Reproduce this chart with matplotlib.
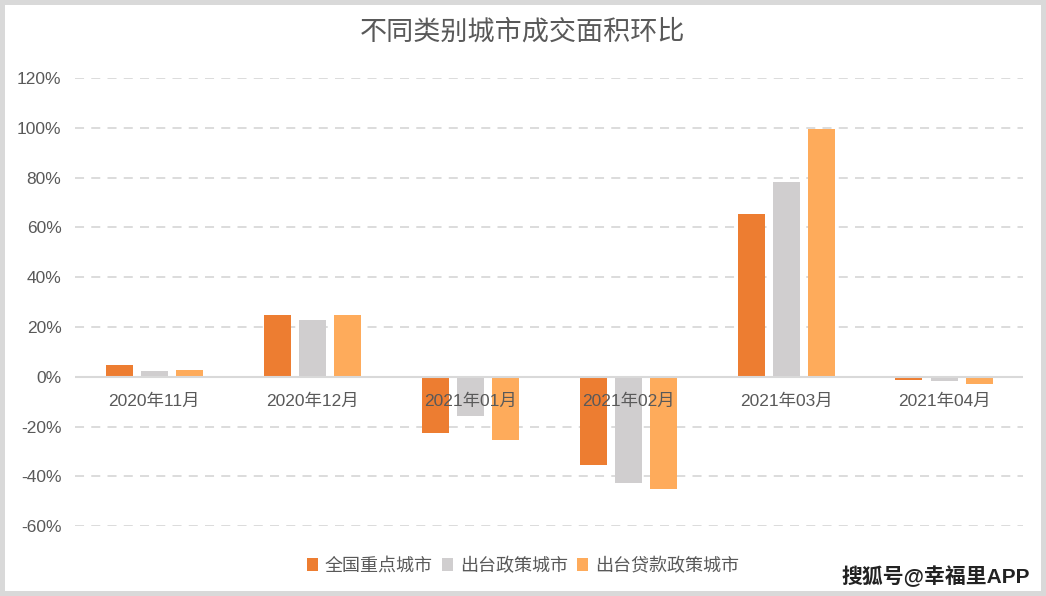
import matplotlib.pyplot as plt
import numpy as np

plt.rcParams['font.family'] = ['Liberation Sans', 'Noto Sans CJK SC', 'DejaVu Sans']

months = ['2020年11月', '2020年12月', '2021年01月', '2021年02月', '2021年03月', '2021年04月']
series_names = ['全国重点城市', '出台政策城市', '出台贷款政策城市']
key_cities = [4.8, 24.9, -22.6, -35.3, 65.5, -1.2]
policy_cities = [2.4, 22.8, -15.7, -42.6, 78.3, -1.7]
loan_policy_cities = [2.8, 24.9, -25.3, -45.0, 99.6, -2.8]
colors = ['#ED7D31', '#D0CECF', '#FEAB5B']

text_color = '#595959'

fig = plt.figure(figsize=(10.46, 5.96), dpi=100)
fig.patch.set_edgecolor('#D9D9D9')
fig.patch.set_linewidth(6)
ax = fig.add_axes([0.072, 0.117, 0.906, 0.752])

x = np.arange(len(months))
step = 0.222
width = 0.171
for i, (vals, name) in enumerate(zip([key_cities, policy_cities, loan_policy_cities], series_names)):
    ax.bar(x + (i - 1) * step, vals, width, color=colors[i], label=name, zorder=3)

ax.set_xlim(-0.5, len(months) - 0.5)
ax.set_ylim(-60, 120)
yt = np.arange(-60, 121, 20)
ax.set_yticks(yt)
ax.set_yticklabels([f'{v}%' for v in yt], fontsize=12.5, color=text_color)
ax.tick_params(axis='y', length=0, pad=10)
ax.set_xticks([])
for s in ax.spines.values():
    s.set_visible(False)
for v in yt:
    if v != 0:
        ax.axhline(v, color='#D9D9D9', lw=1.3, ls=(0, (5, 4)), zorder=1)
ax.axhline(0, color='#D9D9D9', lw=1.5, zorder=4)

# month labels sit just under the zero line
for i, m in enumerate(months):
    ax.annotate(m, (i, 0), xytext=(0, -12), textcoords='offset points',
                ha='center', va='top', fontsize=12.5, color=text_color, zorder=5)

fig.text(0.5, 0.945, '不同类别城市成交面积环比', ha='center', va='center',
         fontsize=19.5, color=text_color)

handles, labels = ax.get_legend_handles_labels()
fig.legend(handles, labels, loc='center', bbox_to_anchor=(0.5, 0.05), ncol=3,
           frameon=False, fontsize=13, labelcolor=text_color,
           handlelength=0.6, handleheight=0.7, handletextpad=0.4, columnspacing=0.5)

fig.text(0.985, 0.034, '搜狐号@幸福里APP', ha='right', va='center',
         fontsize=15, fontweight='bold', color='#222222')

fig.savefig('out.png', dpi=100)
